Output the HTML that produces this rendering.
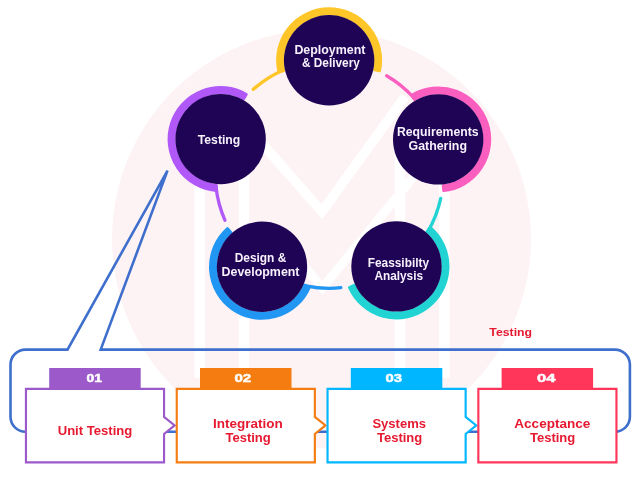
<!DOCTYPE html>
<html><head><meta charset="utf-8"><title>Testing</title>
<style>
html,body{margin:0;padding:0;background:#fff;}
body{width:640px;height:479px;overflow:hidden;font-family:"Liberation Sans",sans-serif;}
svg{display:block;will-change:transform}
text{font-family:"Liberation Sans",sans-serif;font-weight:bold;}
.n{fill:#F6F1FB;font-size:12.3px;}
.r{fill:#E61930;font-size:12.6px;}
.t{fill:#fff;font-size:11px;stroke:#fff;stroke-width:.45px;}
</style></head><body>
<svg width="640" height="479" viewBox="0 0 640 479">

<circle cx="321.5" cy="239" r="209.5" fill="#FDF3F5"/>
<g fill="none" stroke="#fff" stroke-linecap="butt">
<path d="M199.7 150V378" stroke-width="10.5"/>
<path d="M244 150V388" stroke-width="10.5"/>
<path d="M400 150V388" stroke-width="10.5"/>
<path d="M444.3 150V378" stroke-width="10.5"/>
<path d="M255 135.6L322 211.6L405 96.6" stroke-width="9.5"/>
<path d="M296 256L322.3 288L424 164" stroke-width="9"/>
</g>
<path d="M278.79 71.79A51.6 51.6 0 1 1 379.58 71.00L374.49 69.92A46.4 46.4 0 1 0 283.86 70.63Z" fill="#FFC629" stroke="#FFC629" stroke-width="2.8" stroke-linejoin="round"/>
<path d="M282.93 70.16A114.0 114.0 0 0 0 253.32 89.32" fill="none" stroke="#FFC629" stroke-width="3.3" stroke-linecap="round"/>
<circle cx="329.10" cy="60.30" r="45.2" fill="#1F0456"/>
<path d="M411.73 95.11A51.6 51.6 0 1 1 443.63 190.71L443.08 185.54A46.4 46.4 0 1 0 414.40 99.57Z" fill="#FA5FC0" stroke="#FA5FC0" stroke-width="2.8" stroke-linejoin="round"/>
<path d="M414.02 98.02A114.0 114.0 0 0 0 386.64 75.77" fill="none" stroke="#FA5FC0" stroke-width="3.3" stroke-linecap="round"/>
<circle cx="438.20" cy="139.40" r="45.2" fill="#1F0456"/>
<path d="M430.45 227.54A51.6 51.6 0 1 1 349.37 287.42L354.12 285.30A46.4 46.4 0 1 0 427.02 231.45Z" fill="#22D3D3" stroke="#22D3D3" stroke-width="2.8" stroke-linejoin="round"/>
<path d="M428.03 231.30A114.0 114.0 0 0 0 440.73 198.39" fill="none" stroke="#22D3D3" stroke-width="3.3" stroke-linecap="round"/>
<circle cx="396.50" cy="266.40" r="45.2" fill="#1F0456"/>
<path d="M309.45 287.08A51.6 51.6 0 1 1 227.45 228.48L230.93 232.34A46.4 46.4 0 1 0 304.67 285.03Z" fill="#2196F3" stroke="#2196F3" stroke-width="2.8" stroke-linejoin="round"/>
<path d="M305.60 285.81A114.0 114.0 0 0 0 340.82 287.72" fill="none" stroke="#2196F3" stroke-width="3.3" stroke-linecap="round"/>
<circle cx="262.00" cy="266.80" r="45.2" fill="#1F0456"/>
<path d="M215.98 190.49A51.6 51.6 0 1 1 246.37 94.40L243.77 98.90A46.4 46.4 0 1 0 216.45 185.31Z" fill="#B158F8" stroke="#B158F8" stroke-width="2.8" stroke-linejoin="round"/>
<path d="M215.92 186.22A114.0 114.0 0 0 0 224.99 220.30" fill="none" stroke="#B158F8" stroke-width="3.3" stroke-linecap="round"/>
<circle cx="220.60" cy="139.10" r="45.2" fill="#1F0456"/>
<text class="n" x="294.4" y="53.5" textLength="71" lengthAdjust="spacingAndGlyphs">Deployment</text>
<text class="n" x="302" y="67.2" textLength="57.8" lengthAdjust="spacingAndGlyphs">&amp; Delivery</text>
<text class="n" x="396.9" y="136" textLength="81.7" lengthAdjust="spacingAndGlyphs">Requirements</text>
<text class="n" x="408.5" y="149.6" textLength="58.5" lengthAdjust="spacingAndGlyphs">Gathering</text>
<text class="n" x="367.75" y="266.5" textLength="61.25" lengthAdjust="spacingAndGlyphs">Feassibilty</text>
<text class="n" x="374.4" y="280" textLength="48.7" lengthAdjust="spacingAndGlyphs">Analysis</text>
<text class="n" x="234.7" y="262" textLength="51.6" lengthAdjust="spacingAndGlyphs">Design &amp;</text>
<text class="n" x="221.6" y="275.7" textLength="77.9" lengthAdjust="spacingAndGlyphs">Development</text>
<text class="n" x="197.75" y="143.75" textLength="42.5" lengthAdjust="spacingAndGlyphs">Testing</text>
<path d="M67.5 349.6H25.5A15 15 0 0 0 10.5 364.6V416.7A15 15 0 0 0 25.5 431.7H614.9A15 15 0 0 0 629.9 416.7V364.6A15 15 0 0 0 614.9 349.6H100.7L167.5 170.6Z" fill="none" stroke="#3F6FCC" stroke-width="2.6" stroke-linejoin="miter"/>
<text class="r" style="font-size:11.6px" x="489.3" y="336.2" textLength="42.8" lengthAdjust="spacingAndGlyphs">Testing</text>
<path d="M25.95 388.85H164.05V416.9L174.65 425.4L164.05 433.9V462.4H25.95Z" fill="#fff" stroke="#9B59C9" stroke-width="2.15" stroke-linejoin="miter"/>
<rect x="49.20" y="368" width="91.5" height="20.2" fill="#9B59C9"/>
<path d="M176.75 388.85H314.85V416.9L325.45 425.4L314.85 433.9V462.4H176.75Z" fill="#fff" stroke="#F57C10" stroke-width="2.15" stroke-linejoin="miter"/>
<rect x="200.00" y="368" width="91.5" height="20.2" fill="#F57C10"/>
<path d="M327.55 388.85H465.65V416.9L476.25 425.4L465.65 433.9V462.4H327.55Z" fill="#fff" stroke="#00B7FF" stroke-width="2.15" stroke-linejoin="miter"/>
<rect x="350.80" y="368" width="91.5" height="20.2" fill="#00B7FF"/>
<path d="M478.35 388.85H616.45V462.4H478.35Z" fill="#fff" stroke="#FF365A" stroke-width="2.15" stroke-linejoin="miter"/>
<rect x="501.60" y="368" width="91.5" height="20.2" fill="#FF365A"/>
<text class="t" x="86.5" y="382" textLength="15.5" lengthAdjust="spacingAndGlyphs">01</text>
<text class="t" x="234.5" y="382" textLength="16.75" lengthAdjust="spacingAndGlyphs">02</text>
<text class="t" x="385.5" y="382" textLength="16.5" lengthAdjust="spacingAndGlyphs">03</text>
<text class="t" x="537" y="382" textLength="18.5" lengthAdjust="spacingAndGlyphs">04</text>
<text class="r" x="57.7" y="435.3" textLength="74.6" lengthAdjust="spacingAndGlyphs">Unit Testing</text>
<text class="r" x="212.9" y="427.9" textLength="69.8" lengthAdjust="spacingAndGlyphs">Integration</text>
<text class="r" x="225.4" y="442.4" textLength="45.4" lengthAdjust="spacingAndGlyphs">Testing</text>
<text class="r" x="372.4" y="427.9" textLength="53.7" lengthAdjust="spacingAndGlyphs">Systems</text>
<text class="r" x="376.9" y="442.4" textLength="45.4" lengthAdjust="spacingAndGlyphs">Testing</text>
<text class="r" x="514.3" y="427.9" textLength="76.1" lengthAdjust="spacingAndGlyphs">Acceptance</text>
<text class="r" x="529.9" y="442.4" textLength="45.4" lengthAdjust="spacingAndGlyphs">Testing</text>
</svg></body></html>
